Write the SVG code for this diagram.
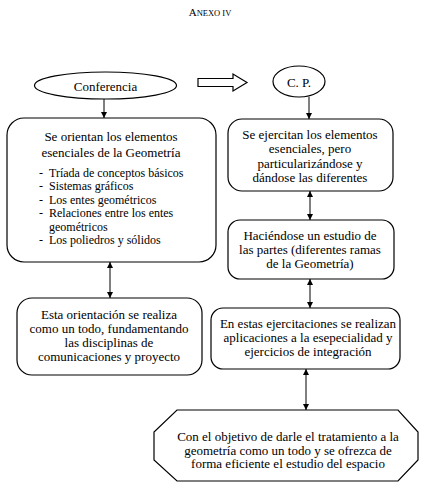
<svg xmlns="http://www.w3.org/2000/svg" width="425" height="490" viewBox="0 0 425 490" font-family="'Liberation Serif', 'Times New Roman', Times, 'DejaVu Serif', serif">
<style>
text{font-family:'Liberation Serif','Times New Roman',Times,'DejaVu Serif',serif;font-size:13px;fill:#000}
.c{text-anchor:middle}
.b{font-size:12px}
.box{fill:#fff;stroke:#000;stroke-width:1.2}
.ln{stroke:#000;stroke-width:1;fill:none}
</style>
<defs>
<marker id="ah" markerWidth="6" markerHeight="6" refX="6" refY="3" orient="auto-start-reverse" markerUnits="userSpaceOnUse">
<path d="M0,0 L6,3 L0,6 Z" fill="#000"/>
</marker>
</defs>
<rect width="425" height="490" fill="#fff"/>
<text x="210" y="16" class="c"><tspan font-size="11">A</tspan><tspan font-size="8.5">NEXO IV</tspan></text>

<g id="connectors">
<line class="ln" x1="104" y1="99" x2="104" y2="118" marker-end="url(#ah)"/>
<line class="ln" x1="309" y1="97" x2="309" y2="119" marker-end="url(#ah)"/>
<line class="ln" x1="110" y1="262" x2="110" y2="298" marker-start="url(#ah)" marker-end="url(#ah)"/>
<line class="ln" x1="310" y1="191" x2="310" y2="220" marker-start="url(#ah)" marker-end="url(#ah)"/>
<line class="ln" x1="310" y1="279" x2="310" y2="308" marker-start="url(#ah)" marker-end="url(#ah)"/>
<line class="ln" x1="306" y1="369" x2="306" y2="410" marker-start="url(#ah)" marker-end="url(#ah)"/>
<polygon class="box" points="198,78.5 233,78.5 233,74 247,82.5 233,91 233,86.5 198,86.5"/>
</g>

<g id="conferencia">
<ellipse class="box" cx="105.5" cy="85.5" rx="71" ry="13.5"/>
<text x="105.5" y="90.5" class="c" font-size="14.5">Conferencia</text>
</g>

<g id="cp">
<ellipse class="box" cx="299" cy="81.5" rx="26" ry="15.5"/>
<text x="299" y="86.5" class="c" font-size="14">C. P.</text>
</g>

<g id="orientan">
<rect class="box" x="7" y="118" width="209" height="144" rx="17"/>
<text x="111" y="141" class="c">Se orientan los elementos</text>
<text x="111" y="156.5" class="c">esenciales de la Geometría</text>
<text class="b" x="39" y="176.5">-</text><text class="b" x="49" y="176.5">Tríada de conceptos básicos</text>
<text class="b" x="39" y="190">-</text><text class="b" x="49" y="190">Sistemas gráficos</text>
<text class="b" x="39" y="203.5">-</text><text class="b" x="49" y="203.5">Los entes geométricos</text>
<text class="b" x="39" y="217">-</text><text class="b" x="49" y="217">Relaciones entre los entes</text>
<text class="b" x="49" y="230.5">geométricos</text>
<text class="b" x="39" y="244">-</text><text class="b" x="49" y="244">Los poliedros y sólidos</text>
</g>

<g id="orientacion">
<rect class="box" x="17" y="298" width="185" height="77" rx="15"/>
<text x="109" y="319" class="c">Esta orientación se realiza</text>
<text x="109" y="332.5" class="c">como un todo, fundamentando</text>
<text x="109" y="347" class="c">las disciplinas de</text>
<text x="109" y="361" class="c">comunicaciones y proyecto</text>
</g>

<g id="ejercitan">
<rect class="box" x="228" y="119" width="165" height="72" rx="14"/>
<text x="310" y="139" class="c">Se ejercitan los elementos</text>
<text x="310" y="153" class="c">esenciales, pero</text>
<text x="310" y="168" class="c">particularizándose y</text>
<text x="310" y="182" class="c">dándose las diferentes</text>
</g>

<g id="partes">
<rect class="box" x="228" y="220" width="166" height="59" rx="12"/>
<text x="310" y="240" class="c">Haciéndose un estudio de</text>
<text x="310" y="254" class="c">las partes (diferentes ramas</text>
<text x="310" y="268" class="c">de la Geometría)</text>
</g>

<g id="ejercitaciones">
<rect class="box" x="211" y="308" width="189" height="61" rx="12"/>
<text x="308" y="327.5" class="c">En estas ejercitaciones se realizan</text>
<text x="308" y="342" class="c">aplicaciones a la esepecialidad y</text>
<text x="308" y="356" class="c">ejercicios de integración</text>
</g>

<g id="objetivo">
<polygon class="box" points="177,410 398,410 418,432 418,460 398,481 177,481 154,460 154,432"/>
<text x="288" y="441" class="c">Con el objetivo de darle el tratamiento a la</text>
<text x="288" y="454.5" class="c">geometría como un todo y se ofrezca de</text>
<text x="288" y="468" class="c">forma eficiente el estudio del espacio</text>
</g>
</svg>
